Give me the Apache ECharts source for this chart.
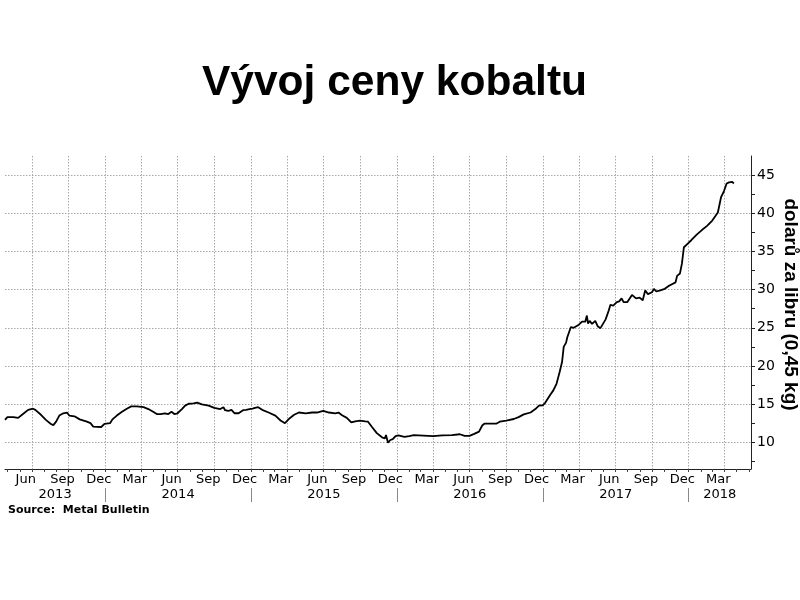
<!DOCTYPE html>
<html><head><meta charset="utf-8">
<script src="https://cdn.jsdelivr.net/npm/echarts@6/dist/echarts.min.js"></script>
<style>html,body{margin:0;padding:0;background:#fff}#c{width:800px;height:600px}</style>
</head><body><div id="c"></div>
<script>
const dates = [
'2013-04-25','2013-05-01','2013-05-16','2013-05-28','2013-06-09','2013-06-22','2013-07-04','2013-07-10','2013-07-24','2013-08-06',
'2013-08-18','2013-08-24','2013-08-31','2013-09-08','2013-09-18','2013-09-27','2013-10-03','2013-10-16','2013-10-29','2013-11-16',
'2013-11-25','2013-12-02','2013-12-22','2013-12-26','2013-12-30','2014-01-13','2014-01-19','2014-01-30','2014-02-12','2014-02-24',
'2014-03-07','2014-03-21','2014-04-07','2014-04-19','2014-05-01','2014-05-10','2014-05-14','2014-05-20','2014-05-30','2014-06-08',
'2014-06-16','2014-06-23','2014-07-01','2014-07-12','2014-07-20','2014-07-29','2014-08-10','2014-08-19','2014-08-31','2014-09-17',
'2014-10-01','2014-10-16','2014-10-24','2014-10-28','2014-11-05','2014-11-13','2014-11-21','2014-12-01','2014-12-12','2014-12-20',
'2014-12-28','2015-01-05','2015-01-11','2015-01-19','2015-01-29','2015-02-14','2015-03-03','2015-03-16','2015-03-27','2015-04-01',
'2015-04-08','2015-04-19','2015-05-01','2015-05-18','2015-06-03','2015-06-15','2015-07-01','2015-07-15','2015-07-31','2015-08-08',
'2015-08-17','2015-08-29','2015-09-09','2015-09-19','2015-10-01','2015-10-14','2015-10-21','2015-10-31','2015-11-12','2015-11-25',
'2015-12-02','2015-12-05','2015-12-10','2015-12-16','2015-12-22','2015-12-29','2016-01-05','2016-01-20','2016-02-01','2016-02-13',
'2016-02-17','2016-04-01','2016-04-24','2016-05-18','2016-06-07','2016-06-19','2016-07-01','2016-07-13','2016-07-25','2016-08-02',
'2016-08-08','2016-09-07','2016-09-15','2016-10-01','2016-10-20','2016-11-01','2016-11-14','2016-12-01','2016-12-13','2016-12-22',
'2017-01-01','2017-01-07','2017-01-19','2017-01-27','2017-02-04','2017-02-12','2017-02-18','2017-02-22','2017-02-28','2017-03-03',
'2017-03-08','2017-03-12','2017-03-19','2017-04-01','2017-04-09','2017-04-17','2017-04-21','2017-04-24','2017-04-28','2017-05-04',
'2017-05-12','2017-05-18','2017-05-25','2017-05-29','2017-06-07','2017-06-15','2017-06-19','2017-06-26','2017-07-05','2017-07-11',
'2017-07-17','2017-07-22','2017-07-31','2017-08-12','2017-08-22','2017-08-31','2017-09-08','2017-09-14','2017-09-21','2017-10-01',
'2017-10-06','2017-10-12','2017-10-22','2017-11-02','2017-11-11','2017-11-20','2017-11-29','2017-12-03','2017-12-10','2017-12-15',
'2017-12-20','2017-12-29','2018-01-08','2018-01-21','2018-02-03','2018-02-16','2018-03-01','2018-03-15','2018-03-23','2018-03-30',
'2018-04-06','2018-04-12','2018-04-20','2018-04-24'
];
const prices = [
12.94,13.3,13.3,13.2,13.7,14.25,14.4,14.25,13.6,12.9,
12.4,12.25,12.7,13.5,13.8,13.9,13.5,13.4,13.0,12.7,
12.5,12.06,12.0,11.85,12.4,12.5,13.0,13.5,14.0,14.4,
14.7,14.7,14.6,14.35,14.0,13.7,13.9,13.7,13.8,13.7,
14.0,13.7,13.8,14.35,14.8,15.05,15.1,15.2,14.96,14.8,
14.5,14.35,14.6,14.2,14.1,14.25,13.8,13.8,14.2,14.25,
14.35,14.4,14.5,14.6,14.25,13.9,13.5,12.85,12.5,12.4,
13.15,13.6,13.9,13.8,13.9,13.9,14.1,13.9,13.8,13.9,
13.55,13.2,12.6,12.75,12.85,12.75,12.7,12.0,11.2,10.65,
10.5,10.95,9.95,10.3,10.4,10.8,10.9,10.7,10.8,10.95,
10.7,10.8,10.9,10.95,11.05,10.85,10.85,11.1,11.4,12.2,
12.45,12.45,12.7,12.85,13.05,13.3,13.65,13.9,14.35,14.8,
14.85,15.2,16.2,16.8,17.65,19.25,20.55,22.5,23.05,23.75,
23.9,25.1,25.0,25.4,25.8,25.8,26.6,25.55,25.9,25.5,
25.9,25.2,24.95,24.9,26.1,27.3,28.0,27.9,28.35,28.45,
28.85,28.35,28.35,29.3,28.85,28.95,28.6,29.9,29.4,29.65,
30.1,29.75,29.9,30.1,30.45,30.7,30.95,31.8,32.1,33.4,
35.55,36.0,36.5,37.2,37.8,38.35,39.05,40.1,42.1,42.85,
43.9,44.05,44.1,43.9
];
const monthNames = ['Jan','Feb','Mar','Apr','May','Jun','Jul','Aug','Sep','Oct','Nov','Dec'];
const labelMonths = [2,5,8,11];
const years = [2013,2014,2015,2016,2017,2018];
const yLabelValues = [10,15,20,25,30,35,40,45];
const yTickValues = [7.5,10,12.5,15,17.5,20,22.5,25,27.5,30,32.5,35,37.5,40,42.5,45];
const xStart = '2013-04-25';
const xEnd = '2018-06-06';
const yMin = 6.5, yMax = 47.5;
const titleText = 'Vývoj ceny kobaltu';
const yName = 'dolarů za libru (0,45 kg)';
const sourceText = 'Source:  Metal Bulletin';

function p(s){const a=s.split('-').map(Number);return new Date(a[0],a[1]-1,a[2]).getTime();}
const tMin = p(xStart), tMax = p(xEnd);
const monthStarts = [], quarterStarts = [], monthLabelPos = [];
for (let y = years[0]; y <= years[years.length-1]; y++) {
  for (let m = 0; m < 12; m++) {
    const t = new Date(y, m, 1).getTime();
    if (t >= tMin && t <= tMax) { monthStarts.push(t); if (m % 3 === 0) quarterStarts.push(t); }
    const mid = new Date(y, m, 16).getTime();
    if (labelMonths.indexOf(m) >= 0 && mid >= tMin && mid <= tMax) monthLabelPos.push(mid);
  }
}
const yearSeps = [], yearLabelPos = [];
years.forEach(y => {
  const a = Math.max(tMin, new Date(y,0,1).getTime());
  const b = Math.min(tMax, new Date(y+1,0,1).getTime());
  yearLabelPos.push((a+b)/2);
  const j = new Date(y,0,1).getTime();
  if (j > tMin && j < tMax) yearSeps.push(j);
});
function yearOf(v){ let best = years[0], d = Infinity; yearLabelPos.forEach((t,i)=>{ if (Math.abs(t-v) < d) { d = Math.abs(t-v); best = years[i]; } }); return best; }

const font = 'DejaVu Sans';
const chart = echarts.init(document.getElementById('c'), null, {renderer:'canvas'});
chart.setOption({
  animation: false,
  backgroundColor: '#fff',
  title: {
    text: titleText, left: 197, top: 57,
    textStyle: {fontFamily: 'Liberation Sans', fontWeight: 'bold', fontSize: 42.5, color: '#000'}
  },
  graphic: [{
    type: 'text', left: 8, top: 505,
    style: {text: sourceText, font: 'bold 11px "DejaVu Sans"', fill: '#000'}
  }],
  grid: {left: 5, right: 49, top: 156, bottom: 131, containLabel: false, outerBoundsMode: 'none'},
  xAxis: [
    { type: 'value', min: tMin, max: tMax, position: 'bottom',
      axisLine: {show: true, lineStyle: {color: '#222', width: 1}},
      axisTick: {show: true, customValues: monthStarts, length: 3, lineStyle: {color: '#444'}},
      axisLabel: {show: true, customValues: monthLabelPos, margin: 4, fontFamily: font, fontSize: 13, color: '#000',
        formatter: v => monthNames[new Date(v).getMonth()]},
      splitLine: {show: false} },
    { type: 'value', min: tMin, max: tMax, position: 'bottom',
      axisLine: {show: false}, axisTick: {show: false, customValues: quarterStarts},
      axisLabel: {show: false},
      splitLine: {show: true, lineStyle: {color: '#a8a8a8', type: [1.5, 1.5], width: 1}} },
    { type: 'value', min: tMin, max: tMax, position: 'bottom', offset: 19,
      axisLine: {show: false},
      axisTick: {show: true, customValues: yearSeps, length: 14, lineStyle: {color: '#888'}},
      axisLabel: {show: true, customValues: yearLabelPos, margin: 0, fontFamily: font, fontSize: 13, color: '#000',
        formatter: v => String(yearOf(v))},
      splitLine: {show: false} }
  ],
  yAxis: [
    { type: 'value', position: 'right', min: yMin, max: yMax,
      name: yName, nameLocation: 'middle', nameRotate: -90, nameGap: 30, nameMoveOverlap: false,
      nameTextStyle: {fontFamily: 'Liberation Sans', fontWeight: 'bold', fontSize: 19, color: '#000', padding: [0, 16, 0, 0]},
      axisLine: {show: true, lineStyle: {color: '#222', width: 1}},
      axisTick: {show: true, customValues: yTickValues, length: 4, inside: false, lineStyle: {color: '#222'}},
      axisLabel: {show: true, customValues: yLabelValues, margin: 6, fontFamily: font, fontSize: 14, color: '#000'},
      splitLine: {show: false} },
    { type: 'value', position: 'right', min: yMin, max: yMax,
      axisLine: {show: false}, axisTick: {show: false, customValues: yLabelValues},
      axisLabel: {show: false},
      splitLine: {show: true, lineStyle: {color: '#a8a8a8', type: [1.5, 1.5], width: 1}} }
  ],
  series: [{
    type: 'line', xAxisIndex: 0, yAxisIndex: 0,
    data: dates.map((d, i) => [p(d), prices[i]]),
    showSymbol: false, symbol: 'none',
    lineStyle: {color: '#000', width: 1.8},
    z: 5
  }]
});
</script>
</body></html>
